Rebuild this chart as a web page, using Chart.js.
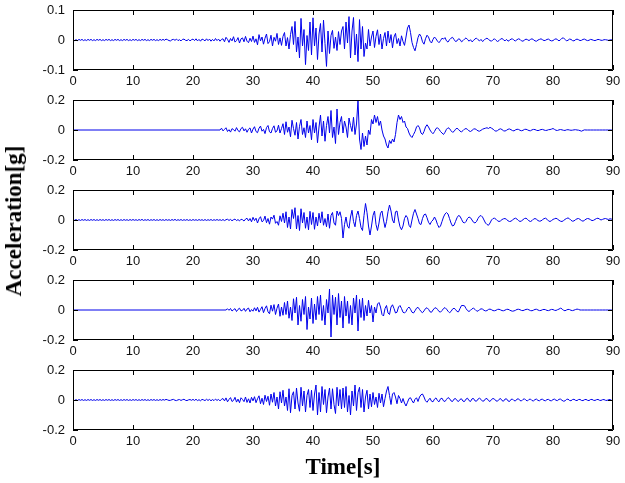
<!DOCTYPE html>
<html>
<head>
<meta charset="utf-8">
<script src="https://cdn.jsdelivr.net/npm/chart.js@4.4.1/dist/chart.umd.min.js"></script>
<style>
  body { margin: 0; background: #fff; }
  #wrap { position: relative; width: 625px; height: 483px; overflow: hidden; }
  #wrap canvas { position: absolute; left: 0; }
  .title { position: absolute; font-family: 'Liberation Serif', 'Times New Roman', serif; font-weight: bold; font-size: 23px; color: #000; white-space: nowrap; }
  #ytitle { left: 14px; top: 221px; transform: translate(-50%, -50%) rotate(-90deg); }
  #xtitle { left: 343px; top: 467px; transform: translate(-50%, -50%); }
</style>
</head>
<body>
<div id="wrap">
  <canvas id="c1" width="625" height="96"></canvas>
  <canvas id="c2" width="625" height="96"></canvas>
  <canvas id="c3" width="625" height="96"></canvas>
  <canvas id="c4" width="625" height="96"></canvas>
  <canvas id="c5" width="625" height="96"></canvas>
  <div class="title" id="ytitle">Acceleration[g]</div>
  <div class="title" id="xtitle">Time[s]</div>
</div>
<script>
// sample step of the hand-read records [s]
const step = 0.25;
const xTicks = [0, 10, 20, 30, 40, 50, 60, 70, 80, 90];
const yLimits = [0.1, 0.2, 0.2, 0.2, 0.2];

// record 1, from 0 s (one row = 5 s)
const start1 = 0;
const acc1 = [
  0.002,-0.002,0.001,-0.002,0.002,-0.001,0.002,-0.002,0.001,-0.002,0.002,-0.001,0.002,-0.002,0.001,-0.002,0.002,-0.001,0.002,-0.002,
  0.001,-0.002,0.002,-0.001,0.002,-0.002,0.001,-0.002,0.002,-0.001,0.002,-0.002,0.001,-0.002,0.002,-0.001,0.002,-0.002,0.001,-0.002,
  0.002,-0.001,0.002,-0.002,0.001,-0.002,0.002,-0.001,0.002,-0.002,0.001,-0.002,0.002,-0.001,0.002,-0.002,0.001,-0.002,0.002,-0.001,
  0.002,-0.001,0.003,0.001,-0.002,-0.003,0.001,0.002,-0.001,0.003,-0.002,0.001,-0.003,0.002,0.003,-0.001,-0.002,0.002,-0.003,0.001,
  0.003,-0.002,0.004,-0.003,0.002,-0.004,0.003,0.001,-0.003,0.004,-0.002,0.003,-0.004,0.002,-0.003,0.005,-0.002,0.003,-0.004,0.002,
  0.004,-0.006,0.009,0.002,-0.008,0.005,-0.003,0.011,-0.007,-0.002,0.008,-0.01,0.004,0.007,-0.006,0.012,-0.004,-0.009,0.006,-0.005,
  0.013,-0.008,0.004,-0.016,0.018,-0.003,0.01,-0.014,0.006,0.02,-0.012,-0.005,0.016,-0.02,0.009,-0.004,0.022,-0.015,0.007,-0.018,
  0.012,0.025,-0.02,0.008,-0.03,0.018,0.045,-0.015,0.062,-0.04,0.01,-0.06,0.072,-0.02,0.035,-0.082,0.015,-0.035,0.06,-0.05,
  0.074,-0.02,0.04,-0.065,0.02,0.055,-0.04,0.066,-0.012,-0.088,0.03,-0.045,0.015,0.032,-0.028,0.01,-0.035,0.028,-0.015,0.03,
  0.045,-0.03,0.06,-0.01,0.078,-0.06,0.03,0.075,-0.05,0.02,-0.072,0.068,-0.03,0.045,-0.055,-0.01,-0.03,0.035,-0.02,0.01,
  0.03,-0.025,0.012,0.034,-0.015,0.02,-0.03,0.005,0.025,-0.02,0.03,-0.01,0.018,-0.026,0.01,0.022,-0.012,0.005,-0.02,0.014,
  -0.005,-0.018,0.01,0.04,0.05,0.025,-0.008,-0.025,-0.036,-0.015,0.008,0.02,0.012,-0.006,-0.014,0.004,0.016,0.01,-0.004,-0.01,
  0.002,0.01,0.004,-0.004,-0.009,-0.002,0.006,0.003,0.008,-0.003,-0.007,0.001,0.006,0.009,0.002,-0.005,-0.003,0.004,0.002,-0.006,
  -0.002,0.003,0.007,0.002,-0.004,0.001,-0.006,-0.002,0.004,0.006,0.001,-0.003,0.002,-0.005,-0.001,0.004,0.006,0.002,-0.002,-0.004,
  0.001,0.004,-0.001,-0.005,-0.002,0.003,0.005,0.001,-0.003,0.002,-0.004,-0.001,0.003,0.004,-0.001,-0.003,0.001,0.004,0.002,-0.003,
  -0.004,0,0.003,0.001,-0.002,0.002,0.004,0.001,-0.003,-0.004,0,0.002,0.004,0.001,-0.002,-0.001,0.002,0.003,-0.001,-0.003,
  -0.002,0.002,0.004,0.001,-0.003,0.001,0.006,0.007,0.002,-0.003,-0.001,0.003,0.002,-0.002,-0.003,0.001,0.003,0.001,-0.002,-0.001,
  0.002,0.003,0,-0.002,-0.001,0.002,0.001,-0.001,-0.002,0,0.002,0.001,-0.001,-0.001,0.001,0.001,0,-0.001,0,0.001,
  0
];

// record 2, quiet until 24.5 s
const start2 = 24.5;
const acc2 = [
  0,0.012,-0.006,0.004,0.015,-0.01,0.002,-0.014,0.009,0.003,-0.008,0.016,-0.004,-0.012,0.01,0.018,-0.006,0.008,-0.015,0.005,
  0.014,-0.02,0.006,0.022,-0.01,-0.018,0.012,0.026,-0.008,0.004,-0.024,0.016,0.03,-0.012,-0.02,0.01,0.028,-0.015,-0.006,0.032,
  -0.02,0.01,0.042,-0.03,0.055,-0.015,0.02,-0.045,0.065,0.01,-0.035,0.05,-0.06,0.025,0.07,-0.03,0.015,-0.05,0.06,-0.02,
  0.03,-0.065,0.07,-0.02,0.05,-0.085,0.02,0.1,-0.04,0.06,-0.075,0.03,0.09,-0.02,0.13,-0.05,0.02,-0.09,0.14,-0.03,
  0.05,0.09,-0.02,0.06,0.02,-0.05,0.08,0.03,-0.01,0.085,-0.03,0.04,0.2,-0.06,-0.13,-0.02,-0.11,-0.04,-0.1,0,
  -0.03,0.07,0.04,0.1,0.05,0.09,0.03,0.06,0,-0.04,-0.06,-0.1,-0.12,-0.07,-0.09,-0.06,-0.08,-0.03,0.05,0.1,
  0.07,0.09,0.05,0.06,0.02,0.01,-0.02,-0.04,-0.05,-0.03,-0.01,0.02,0.03,0.015,-0.02,-0.03,-0.01,0.02,0.035,0.02,
  0,-0.015,-0.025,-0.01,0.01,0.015,0.005,-0.01,-0.02,-0.03,-0.015,0.005,0.015,0.01,-0.005,-0.015,-0.01,0.005,0.012,0.004,
  -0.008,-0.012,-0.004,0.006,0.01,0.004,-0.006,-0.01,-0.003,0.006,0.008,0.002,-0.006,-0.008,-0.002,0.005,0.009,0.012,0.015,0.01,
  0.018,0.012,0.006,-0.004,-0.008,-0.004,0.004,0.008,0.003,-0.005,-0.007,-0.002,0.005,0.007,0.002,-0.004,-0.006,0.001,0.005,0.004,
  -0.002,-0.005,-0.002,0.004,0.005,0.001,-0.004,-0.005,0.001,0.004,0.003,-0.002,-0.004,-0.001,0.003,0.004,0,-0.003,-0.002,0.002,
  0.003,0.006,0.01,0.004,-0.002,-0.003,0.001,0.003,0.001,-0.002,-0.003,0.001,0.002,0,-0.002,-0.001,0.001,0.002,0,-0.001,
  -0.004,-0.008,-0.003,0.001,0,0,0,0,0,0,0,0,0,0,0,0,0,0,0,0,
  0,0,0
];

// record 3, from 0 s
const start3 = 0;
const acc3 = [
  0.003,-0.002,0.003,-0.003,0.002,-0.003,0.003,-0.002,0.003,-0.003,0.002,-0.003,0.003,-0.002,0.003,-0.003,0.002,-0.003,0.003,-0.002,
  0.002,-0.003,0.003,-0.002,0.003,-0.003,0.002,-0.003,0.003,-0.002,0.003,-0.003,0.002,-0.003,0.003,-0.002,0.002,-0.003,0.003,-0.002,
  0.003,-0.002,0.002,-0.003,0.003,-0.002,0.004,-0.003,0.002,-0.002,0.003,-0.003,0.002,-0.002,0.003,-0.003,0.002,-0.003,0.003,-0.002,
  0.002,-0.003,0.003,-0.002,0.002,-0.003,0.003,-0.002,0.004,-0.003,0.002,-0.002,0.003,-0.003,0.002,-0.002,0.003,-0.003,0.002,-0.003,
  0.003,-0.002,0.002,-0.003,0.003,-0.002,0.002,-0.003,0.003,-0.003,0.002,-0.002,0.003,-0.003,0.002,-0.002,0.003,-0.002,0.002,-0.003,
  0.003,-0.004,0.002,0.005,-0.003,0.004,-0.005,0.002,0.006,-0.004,0.003,-0.006,0.005,0.002,-0.007,0.006,0.012,-0.006,0.01,-0.012,
  0.018,-0.004,0.012,-0.02,0.008,0.022,-0.012,-0.004,0.026,-0.018,0.01,-0.028,0.02,0.006,0.032,-0.022,-0.01,-0.035,0.028,-0.01,
  0.045,-0.02,0.055,-0.05,0.02,-0.06,0.07,0.01,0.082,-0.06,0.03,-0.07,0.075,-0.02,0.05,-0.055,0.02,-0.065,0.058,-0.03,
  0.05,-0.062,0.02,-0.04,0.045,-0.02,0.055,-0.035,0.01,-0.045,0.04,-0.055,0.03,0.05,-0.02,-0.035,0.06,0.03,0.055,0.01,
  -0.12,-0.03,0.02,-0.04,-0.055,0.02,0.065,-0.01,-0.045,0.03,0.06,0.01,-0.05,-0.07,0.03,0.11,0.05,-0.04,-0.1,-0.04,
  0.03,0.06,-0.03,-0.07,-0.02,0.045,0.06,0,-0.05,-0.01,0.055,0.1,0.06,0,-0.02,0.055,0.06,0,-0.045,-0.065,
  -0.04,0.01,0.03,0.015,-0.035,-0.05,0,0.045,0.07,0.04,0.01,-0.025,-0.03,0.01,0.035,0.04,0.015,-0.015,-0.03,-0.01,
  0,0.02,0,-0.03,-0.05,-0.04,-0.01,0.02,0.04,0.05,0.04,0.01,-0.02,-0.04,-0.035,-0.01,0.015,0.03,0.025,0.005,
  -0.015,-0.02,-0.01,0.01,0.02,0.015,0,-0.015,-0.02,-0.01,0.01,0.025,0.03,0.02,0,-0.02,-0.03,-0.035,-0.02,0,
  0.01,0.012,0.005,-0.005,-0.01,-0.006,0.003,0.008,0.01,0.004,-0.005,-0.01,-0.008,0,0.008,0.012,0.006,-0.004,-0.01,-0.006,
  0.002,0.01,0.012,0.004,-0.006,-0.01,-0.004,0.006,0.01,0.005,-0.004,-0.008,-0.006,0.002,0.009,0.012,0.005,-0.006,-0.01,-0.004,
  0.004,0.008,0.012,0.006,-0.002,-0.008,-0.01,-0.004,0.004,0.01,0.014,0.008,-0.002,-0.008,-0.006,0.002,0.008,0.01,0.004,-0.004,
  -0.008,-0.002,0.006,0.01,0.008,0.002,-0.004,-0.002,0.004,0.01,0.012,0.006,0,0.004,0.008,0.01,0.006,0.004,0.008,0.006,
  0.006
];

// record 4, quiet until 25.5 s
const start4 = 25.5;
const acc4 = [
  0,0.008,-0.002,0.01,-0.007,0.002,0.009,-0.01,0.004,0.012,-0.006,-0.002,0.011,-0.009,0.006,0.013,-0.012,0.003,-0.008,0.015,
  -0.006,0.018,-0.014,0.004,0.022,-0.018,0.01,0.028,-0.012,-0.025,0.032,-0.008,0.036,-0.03,0.012,0.04,-0.042,0.02,-0.035,0.05,
  -0.03,0.06,-0.055,0.02,-0.07,0.075,-0.02,0.085,-0.1,0.03,-0.075,0.07,-0.03,0.09,-0.13,0.02,-0.06,0.08,-0.09,0.04,
  -0.065,0.09,-0.03,0.1,-0.07,0.03,-0.1,0.07,-0.02,0.14,-0.18,0.1,-0.03,0.085,-0.1,0.11,-0.05,0.06,-0.12,0.09,
  -0.04,0.06,-0.09,0.03,-0.1,0.08,-0.02,0.1,-0.14,0.07,-0.05,0.08,-0.07,0.03,-0.04,0.065,-0.02,0.03,-0.08,0.02,
  -0.02,0.04,0.05,0.02,-0.03,-0.04,0.01,0.03,-0.02,-0.03,0.02,0.035,0.01,-0.02,-0.015,0.02,0.03,0.01,-0.015,-0.02,
  -0.01,0.01,0.02,0.005,-0.015,-0.02,-0.005,0.012,0.018,0.004,-0.01,-0.018,-0.006,0.01,0.015,0.005,-0.012,-0.015,0,0.012,
  0.015,0.004,-0.01,-0.014,-0.004,0.01,0.016,0.006,-0.008,-0.018,-0.01,0.006,0.012,0.004,-0.01,-0.012,0.01,0.03,0.03,0.028,
  0.01,-0.004,-0.01,-0.002,0.008,0.012,0.004,-0.006,-0.008,0.002,0.008,0.006,-0.002,-0.006,-0.004,0.004,0.006,0.002,-0.004,-0.005,
  -0.002,0.004,0.005,0.001,-0.004,-0.005,-0.001,0.004,0.005,0,-0.005,-0.008,-0.006,-0.002,0.004,0.005,0.002,-0.003,-0.004,0,
  0.004,0.005,0.001,-0.004,-0.005,-0.001,0.004,0.005,0,-0.004,-0.003,0.002,0.004,0.002,-0.003,-0.004,0,0.004,0.003,-0.002,
  -0.003,0.002,0.006,0.012,0.008,-0.002,-0.005,0,0.004,0.003,-0.002,-0.004,-0.001,0.003,0.006,0.004,0,0,0,0,
  0,0,0,0,0,0,0,0,0,0,0,0,0,0,0,0,0,0,0
];

// record 5, from 0 s
const start5 = 0;
const acc5 = [
  0.003,-0.003,0.002,-0.003,0.003,-0.002,0.003,-0.003,0.002,-0.003,0.003,-0.002,0.003,-0.003,0.002,-0.003,0.003,-0.002,0.003,-0.003,
  0.002,-0.003,0.003,-0.002,0.003,-0.003,0.002,-0.003,0.003,-0.002,0.003,-0.003,0.002,-0.003,0.003,-0.002,0.003,-0.003,0.002,-0.003,
  0.003,-0.002,0.003,-0.003,0.002,-0.003,0.003,-0.002,0.003,-0.003,0.002,-0.003,0.003,-0.002,0.003,-0.003,0.002,-0.003,0.003,-0.002,
  0.003,-0.001,0.004,0.001,-0.003,-0.002,0.002,0.004,-0.002,-0.004,0.001,0.003,-0.003,0.002,0.005,-0.002,-0.004,0.001,0.003,-0.002,
  0.004,-0.003,0.005,-0.004,0.002,-0.005,0.004,0.001,-0.004,0.005,-0.003,0.004,-0.005,0.003,-0.004,0.006,-0.003,0.004,-0.006,0.005,
  0.01,-0.006,0.014,-0.012,0.004,0.016,-0.01,-0.003,0.018,-0.014,0.006,-0.018,0.015,0.004,-0.011,0.02,-0.016,0.008,-0.02,0.018,
  -0.006,0.022,-0.018,0.008,0.028,-0.025,0.012,-0.03,0.032,-0.01,0.025,-0.035,0.04,-0.015,0.05,-0.04,0.02,-0.06,0.055,-0.02,
  0.065,-0.04,0.02,-0.07,0.075,-0.085,0.03,0.055,-0.06,0.08,-0.02,-0.075,0.085,-0.04,0.06,-0.08,0.03,0.07,-0.05,0.065,
  -0.07,0.04,0.1,-0.1,0.05,-0.08,0.09,-0.03,0.07,-0.085,0.02,0.08,-0.06,0.075,-0.03,-0.09,0.085,-0.04,0.07,-0.06,
  0.08,-0.05,0.09,-0.08,0.03,-0.1,0.06,-0.04,0.1,-0.07,0.05,0.085,-0.05,0.07,-0.08,0.02,0.065,-0.06,0.04,-0.045,
  0.05,-0.03,0.02,-0.05,0.045,-0.02,0.04,-0.045,0.01,0.06,0.09,0.03,-0.03,0.04,0.05,0.02,-0.025,0.03,0.01,-0.02,
  0.01,-0.02,-0.04,-0.015,0.01,0.015,-0.005,-0.02,0.005,0.015,-0.01,0.02,0.035,0.04,0.02,-0.005,-0.015,0,0.012,-0.008,
  -0.012,0.006,0.014,-0.004,-0.012,0.008,0.012,-0.006,-0.01,0.004,0.016,0.01,-0.006,-0.01,0.006,0.01,-0.004,-0.01,0.004,0.008,
  -0.008,-0.01,0.006,0.012,-0.004,-0.01,0.008,0.01,-0.006,-0.008,0.006,0.012,0.004,-0.008,-0.006,0.008,0.01,-0.004,-0.01,0.004,
  0.01,0.006,-0.006,-0.008,0.004,0.01,-0.004,-0.008,0.006,0.008,-0.006,-0.01,0.004,0.006,-0.004,-0.006,0.006,0.008,-0.004,-0.006,
  0.004,0.008,-0.002,-0.006,0.004,0.006,-0.004,-0.006,0.003,0.006,-0.003,-0.005,0.004,0.005,-0.003,-0.005,0.003,0.004,-0.004,-0.005,
  0.003,0.006,-0.002,-0.004,0.005,0.006,-0.002,-0.008,-0.006,0.004,0.006,-0.003,-0.005,0.003,0.005,-0.002,-0.004,0.003,0.004,-0.003,
  -0.004,0.002,0.004,-0.002,-0.004,0.003,0.004,-0.002,-0.003,0.002,0.004,-0.002,-0.003,0.002,0.003,-0.002,-0.003,0.002,0.003,-0.002,
  0.003
];

const records = [
  [start1, acc1], [start2, acc2], [start3, acc3], [start4, acc4], [start5, acc5]
];

// box round the axes plus inward tick marks, matlab style
const boxPlugin = {
  id: 'box',
  afterDraw(chart) {
    const { ctx, chartArea: a, scales } = chart;
    ctx.save();
    ctx.strokeStyle = '#000';
    ctx.lineWidth = 1;
    ctx.beginPath();
    ctx.rect(a.left + 0.5, a.top + 0.5, a.right - a.left - 1, a.bottom - a.top - 1);
    scales.x.ticks.forEach((t, i) => {
      const px = Math.round(scales.x.getPixelForTick(i)) + 0.5;
      ctx.moveTo(px, a.bottom); ctx.lineTo(px, a.bottom - 5);
      ctx.moveTo(px, a.top); ctx.lineTo(px, a.top + 5);
    });
    scales.y.ticks.forEach((t, i) => {
      const py = Math.round(scales.y.getPixelForTick(i)) + 0.5;
      ctx.moveTo(a.left, py); ctx.lineTo(a.left + 5, py);
      ctx.moveTo(a.right, py); ctx.lineTo(a.right - 5, py);
    });
    ctx.stroke();
    ctx.restore();
  }
};

const tickFont = { family: "'Liberation Sans', Arial, sans-serif", size: 13 };

function makePoints(start, values) {
  const pts = start > 0 ? [{ x: 0, y: 0 }] : [];
  values.forEach((v, i) => pts.push({ x: start + i * step, y: v }));
  return pts;
}

records.forEach(([start, values], k) => {
  const canvas = document.getElementById('c' + (k + 1));
  canvas.style.top = (90 * k) + 'px';
  const lim = yLimits[k];
  new Chart(canvas, {
    type: 'line',
    data: {
      datasets: [{
        data: makePoints(start, values),
        borderColor: 'rgb(0,0,235)',
        borderWidth: 1,
        pointRadius: 0,
        tension: 0
      }]
    },
    options: {
      responsive: false,
      animation: false,
      events: [],
      layout: { padding: { top: 10, right: 12, left: 0, bottom: 0 } },
      plugins: { legend: { display: false }, tooltip: { enabled: false } },
      scales: {
        x: {
          type: 'linear', min: 0, max: 90,
          afterBuildTicks: s => { s.ticks = xTicks.map(v => ({ value: v })); },
          afterFit: s => { s.height = 26; s.paddingLeft = 0; s.paddingRight = 0; },
          grid: { display: false, drawTicks: false },
          border: { display: false },
          ticks: { font: tickFont, color: '#111', padding: 4, maxRotation: 0,
                   callback: v => String(v) }
        },
        y: {
          min: -lim, max: lim,
          afterBuildTicks: s => { s.ticks = [-lim, 0, lim].map(v => ({ value: v })); },
          afterFit: s => { s.width = 73; s.paddingTop = 0; s.paddingBottom = 0; },
          grid: { display: false, drawTicks: false },
          border: { display: false },
          ticks: { font: tickFont, color: '#111', padding: 8,
                   callback: v => v === 0 ? '0' : v.toFixed(1) }
        }
      }
    },
    plugins: [boxPlugin]
  });
});
</script>
</body>
</html>
